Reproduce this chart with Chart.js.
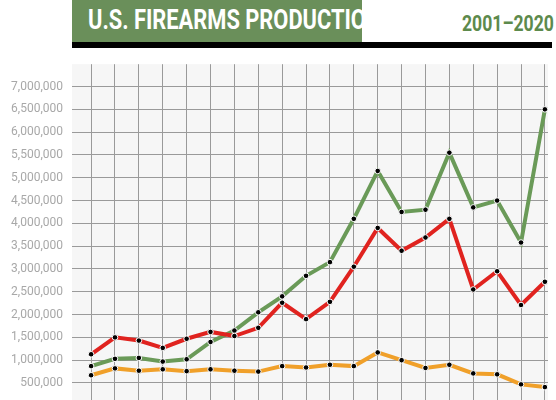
<!DOCTYPE html>
<html><head><meta charset="utf-8">
<script src="https://cdn.jsdelivr.net/npm/chart.js@4"></script>
<style>
html,body{margin:0;padding:0;width:556px;height:400px;overflow:hidden;background:#fff;font-family:"Roboto",sans-serif}
#hdr{position:absolute;left:72px;top:0;width:290px;height:42px;background:#6a8f5a}
#ttl{position:absolute;left:88px;top:3px;color:#fff;font:bold 28px "Roboto",sans-serif;white-space:nowrap;transform:scaleX(0.78);transform-origin:0 0}
#yr{position:absolute;left:462px;top:11px;color:#5d8a4c;font:bold 22px "Roboto",sans-serif;white-space:nowrap;transform:scaleX(0.8);transform-origin:0 0}
#bar{position:absolute;left:72px;top:42px;width:480px;height:6px;background:#000}
#wrap{position:absolute;left:0;top:48px;width:556px;height:374px}
</style></head><body>
<div id="hdr"></div><div id="ttl">U.S. FIREARMS PRODUCTION</div><div id="yr">2001–2020</div><div id="bar"></div>
<div id="wrap"><canvas id="c"></canvas></div>
<script>
const years=[2001,2002,2003,2004,2005,2006,2007,2008,2009,2010,2011,2012,2013,2014,2015,2016,2017,2018,2019,2020];
const greenSeries=[870000,1030000,1050000,970000,1020000,1400000,1650000,2050000,2400000,2850000,3150000,4100000,5150000,4250000,4300000,5550000,4350000,4500000,3580000,6500000];
const redSeries=[1130000,1500000,1430000,1270000,1470000,1620000,1530000,1710000,2260000,1900000,2280000,3050000,3900000,3400000,3690000,4100000,2550000,2950000,2210000,2720000];
const orangeSeries=[670000,820000,770000,800000,760000,800000,770000,750000,870000,840000,900000,870000,1170000,1000000,830000,900000,710000,690000,470000,410000];
const bgPlugin={id:'bg',beforeDraw(ch){const a=ch.chartArea,c=ch.ctx;c.save();c.fillStyle='#f6f6f6';c.fillRect(a.left,a.top,a.right-a.left,a.bottom-a.top);c.restore();}};
function ds(data,color){return{data:years.map((y,i)=>({x:y,y:data[i]})),borderColor:color,borderWidth:4,pointRadius:2.8,pointBackgroundColor:'#000',pointBorderColor:'#fff',pointBorderWidth:1,tension:0}}
new Chart(document.getElementById('c'),{type:'line',plugins:[bgPlugin],
data:{datasets:[ds(orangeSeries,'#f0a02a'),ds(redSeries,'#e0231f'),ds(greenSeries,'#6a9a58')]},
options:{responsive:true,maintainAspectRatio:false,animation:false,layout:{padding:{left:0,right:8,top:0,bottom:0}},
plugins:{legend:{display:false},tooltip:{enabled:false}},
scales:{
x:{type:'linear',min:2000.2,max:2020.13,border:{display:false},grid:{color:'#9a9a9a',lineWidth:1,drawTicks:false},ticks:{display:false,stepSize:1},
 afterBuildTicks(s){s.ticks=years.map(v=>({value:v}));}},
y:{min:0,max:7490000,border:{display:false},grid:{color:'#9a9a9a',lineWidth:1,drawTicks:false},
 afterBuildTicks(s){const t=[];for(let v=0;v<=7000000;v+=500000)t.push({value:v});s.ticks=t;},
 afterFit(s){s.width=72;},
 ticks:{color:'#a8a8a8',padding:9,font:{family:'Roboto',size:12},callback:v=>v.toLocaleString('en-US')}}
}}});
</script></body></html>
